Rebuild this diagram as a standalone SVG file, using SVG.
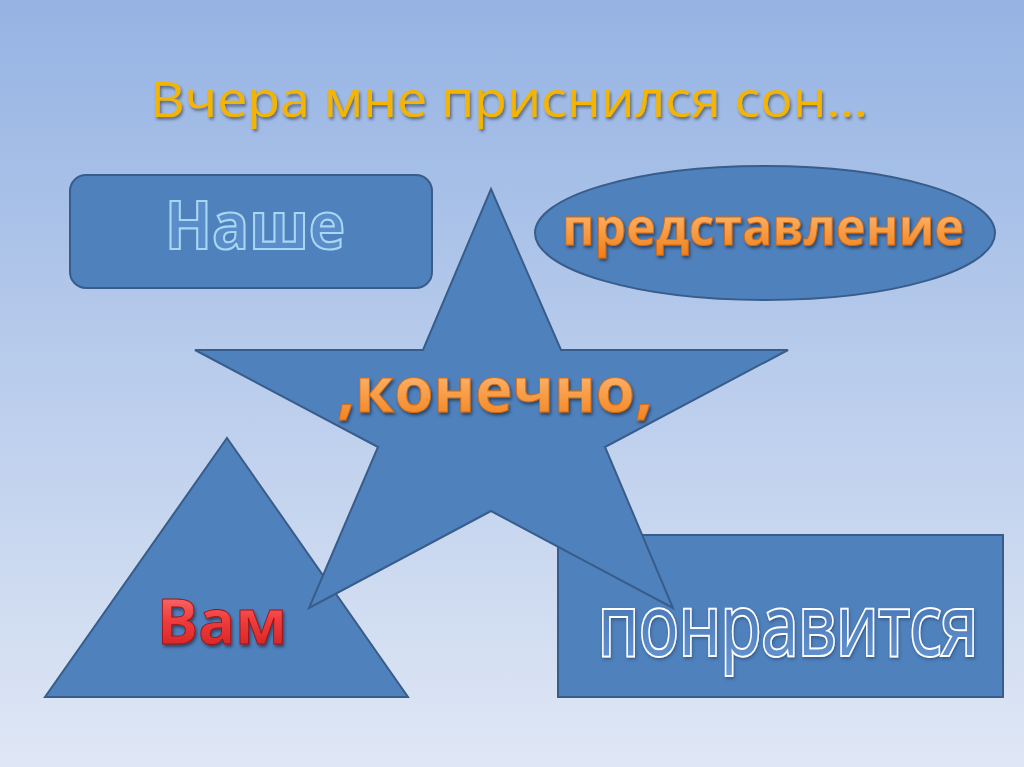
<svg xmlns="http://www.w3.org/2000/svg" width="1024" height="767" viewBox="0 0 1024 767">
  <defs>
    <linearGradient id="bg" x1="0" y1="0" x2="0" y2="1">
      <stop offset="0" stop-color="#95b3e3"/>
      <stop offset="1" stop-color="#dfe7f5"/>
    </linearGradient>
    <linearGradient id="orange" x1="0" y1="0" x2="0" y2="1">
      <stop offset="0" stop-color="#fdd09a"/>
      <stop offset="0.5" stop-color="#f9a452"/>
      <stop offset="1" stop-color="#f07a12"/>
    </linearGradient>
    <linearGradient id="red" x1="0" y1="0" x2="0" y2="1">
      <stop offset="0" stop-color="#ff8a8a"/>
      <stop offset="0.5" stop-color="#f03c3c"/>
      <stop offset="1" stop-color="#c81a1a"/>
    </linearGradient>
    <linearGradient id="blueText" x1="0" y1="0" x2="0" y2="1">
      <stop offset="0" stop-color="#3a68aa"/>
      <stop offset="1" stop-color="#6d9bd6"/>
    </linearGradient>
    <filter id="shadow" x="-10%" y="-30%" width="120%" height="170%">
      <feDropShadow dx="1.5" dy="2.5" stdDeviation="1.5" flood-color="#000" flood-opacity="0.45"/>
    </filter>
    <filter id="softshadow" x="-10%" y="-30%" width="120%" height="170%">
      <feDropShadow dx="1" dy="2" stdDeviation="1.5" flood-color="#1f3a60" flood-opacity="0.5"/>
    </filter>
  </defs>
  <style>
    .shape { fill: #4f81bd; stroke: #385d8a; stroke-width: 2; stroke-linejoin: miter; }
    .title { font-family: "Open Sans", "Noto Sans", sans-serif; font-size: 50px; fill: #f4b400; }
    .bold { font-family: "Open Sans", "Noto Sans", sans-serif; font-weight: bold; }
  </style>
  <rect x="0" y="0" width="1024" height="767" fill="url(#bg)"/>

  <text class="title" x="150" y="117" textLength="718" lengthAdjust="spacingAndGlyphs" filter="url(#shadow)">Вчера мне приснился сон…</text>

  <g id="node-nashe">
    <rect class="shape" x="70" y="175" width="362" height="113" rx="16" ry="16"/>
    <text x="255" y="249" text-anchor="middle" font-family="'Open Sans', 'Noto Sans', sans-serif" font-weight="bold" font-size="66" fill="#5a8dc9" stroke="#a9d6f2" stroke-width="2.2" textLength="180" lengthAdjust="spacingAndGlyphs">Наше</text>
  </g>

  <g id="node-predstavlenie">
    <ellipse class="shape" cx="765" cy="233" rx="230" ry="67"/>
    <text class="bold" x="763" y="245" text-anchor="middle" font-size="52" fill="url(#orange)" stroke="#d9690c" stroke-width="0.8" textLength="402" lengthAdjust="spacingAndGlyphs" filter="url(#shadow)">представление</text>
  </g>

  <g id="node-ponravitsya">
    <rect class="shape" x="558" y="535" width="445" height="162"/>
  </g>

  <g id="node-vam">
    <polygon class="shape" points="227,438 408,697 45,697"/>
  </g>

  <g id="node-konechno">
    <polygon class="shape" points="491,189 561,350 788,350 605,447 673,608 491,511 309,608 378,447 195,350 423,350"/>
    <text class="bold" x="495" y="412" text-anchor="middle" font-size="62" fill="url(#orange)" stroke="#d9690c" stroke-width="0.8" textLength="316" lengthAdjust="spacingAndGlyphs" filter="url(#shadow)">,конечно,</text>
  </g>

  <g id="labels">
    <text class="bold" x="222" y="644" text-anchor="middle" font-size="62" fill="url(#red)" stroke="#a01010" stroke-width="0.8" textLength="130" lengthAdjust="spacingAndGlyphs" filter="url(#shadow)">Вам</text>
    <text x="788" y="655" text-anchor="middle" font-family="'Open Sans', 'Noto Sans', sans-serif" font-size="84" fill="url(#blueText)" stroke="#ffffff" stroke-width="4" paint-order="stroke" textLength="380" lengthAdjust="spacingAndGlyphs" filter="url(#softshadow)">понравится</text>
  </g>

  <g id="connectors"></g>
</svg>
